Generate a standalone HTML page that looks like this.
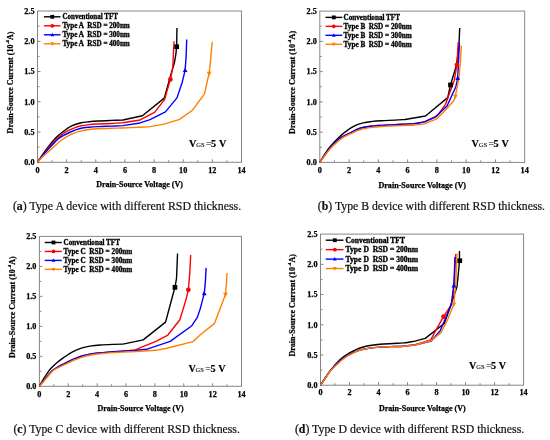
<!DOCTYPE html>
<html><head><meta charset="utf-8"><style>
html,body{margin:0;padding:0;background:#fff;}
svg{display:block;}
text{font-family:'Liberation Serif','Times New Roman',serif;}
.tk{font-size:8.2px;font-weight:bold;fill:#000;stroke:#000;stroke-width:0.25px;}
.lg{font-size:7.2px;font-weight:bold;fill:#000;stroke:#000;stroke-width:0.3px;}
.ax{font-size:8.1px;font-weight:bold;fill:#000;stroke:#000;stroke-width:0.25px;}
.vg{font-size:10.2px;font-weight:bold;fill:#000;stroke:#000;stroke-width:0.2px;}
.cp{font-size:11.5px;fill:#111;stroke:#111;stroke-width:0.2px;}
</style></head><body>
<svg width="550" height="440" viewBox="0 0 550 440">
<rect width="550" height="440" fill="#fff"/>
<rect x="37.5" y="11" width="204" height="151.3" fill="none" stroke="#858585" stroke-width="1"/>
<path d="M52.07 162.3v-2M66.64 162.3v-3M81.21 162.3v-2M95.79 162.3v-3M110.36 162.3v-2M124.93 162.3v-3M139.5 162.3v-2M154.07 162.3v-3M168.64 162.3v-2M183.21 162.3v-3M197.79 162.3v-2M212.36 162.3v-3M226.93 162.3v-2M37.5 147.17h2M37.5 132.04h3M37.5 116.91h2M37.5 101.78h3M37.5 86.65h2M37.5 71.52h3M37.5 56.39h2M37.5 41.26h3M37.5 26.13h2" stroke="#858585" stroke-width="1" fill="none"/>
<text x="37.5" y="172.5" text-anchor="middle" class="tk">0</text>
<text x="66.64" y="172.5" text-anchor="middle" class="tk">2</text>
<text x="95.79" y="172.5" text-anchor="middle" class="tk">4</text>
<text x="124.93" y="172.5" text-anchor="middle" class="tk">6</text>
<text x="154.07" y="172.5" text-anchor="middle" class="tk">8</text>
<text x="183.21" y="172.5" text-anchor="middle" class="tk">10</text>
<text x="212.36" y="172.5" text-anchor="middle" class="tk">12</text>
<text x="241.5" y="172.5" text-anchor="middle" class="tk">14</text>
<text x="34.5" y="165.1" text-anchor="end" class="tk">0.0</text>
<text x="34.5" y="134.84" text-anchor="end" class="tk">0.5</text>
<text x="34.5" y="104.58" text-anchor="end" class="tk">1.0</text>
<text x="34.5" y="74.32" text-anchor="end" class="tk">1.5</text>
<text x="34.5" y="44.06" text-anchor="end" class="tk">2.0</text>
<text x="34.5" y="13.8" text-anchor="end" class="tk">2.5</text>
<path d="M37.5 162.3C38.37 160.97 41 156.83 42.75 154.31C44.49 151.79 45.85 149.87 47.99 147.17C50.13 144.47 53.14 140.61 55.57 138.09C58 135.57 59.96 134.04 62.56 132.04C65.16 130.04 68.22 127.62 71.16 126.11C74.1 124.6 77.18 123.7 80.19 122.96C83.21 122.23 86.19 122.01 89.23 121.69C92.26 121.37 94.62 121.24 98.41 121.03C102.2 120.81 107.88 120.59 111.96 120.42C116.04 120.25 121.07 120.07 122.89 120L142.41 115.7L164.27 98.15L169.52 79.39L174.47 62.44L175.93 53.97L176.66 45.5L176.95 27.95" stroke="#000000" stroke-width="1.4" fill="none" stroke-linejoin="round"/>
<path d="M37.5 162.3C38.47 160.97 41.39 156.83 43.33 154.31C45.27 151.79 46.8 149.87 49.16 147.17C51.51 144.47 54.55 140.71 57.46 138.09C60.38 135.47 63.9 133.1 66.64 131.43C69.39 129.77 71.67 129.01 73.93 128.11C76.19 127.2 77.64 126.57 80.19 125.99C82.74 125.4 86.19 124.93 89.23 124.6C92.26 124.26 94.62 124.18 98.41 123.99C102.2 123.8 107.88 123.65 111.96 123.45C116.04 123.24 121.07 122.89 122.89 122.78L140.08 119.94L154.51 112.37L164.56 99.66L170.39 79.39L172.72 67.89L174.03 41.26" stroke="#ff0000" stroke-width="1.4" fill="none" stroke-linejoin="round"/>
<path d="M37.5 162.3C38.54 160.97 41.65 156.83 43.77 154.31C45.88 151.79 47.6 149.87 50.18 147.17C52.75 144.47 55.71 140.66 59.21 138.09C62.71 135.52 67.66 133.33 71.16 131.74C74.66 130.14 77.18 129.29 80.19 128.53C83.21 127.77 86.19 127.52 89.23 127.2C92.26 126.88 94.62 126.77 98.41 126.59C102.2 126.41 107.88 126.27 111.96 126.11C116.04 125.95 121.07 125.71 122.89 125.62L140.08 122.96L149.99 119.63L165.44 111.83L176.95 97.85L182.19 82.41L185.11 70.31L186.13 56.39L186.71 39.44" stroke="#0000ff" stroke-width="1.4" fill="none" stroke-linejoin="round"/>
<path d="M37.5 162.3C38.35 161.39 40.88 158.54 42.6 156.85C44.32 155.17 46.27 153.6 47.85 152.19C49.42 150.79 50.83 149.55 52.07 148.44C53.31 147.33 53.63 146.98 55.28 145.54C56.93 144.09 59.33 141.63 61.98 139.79C64.63 137.94 68.12 135.9 71.16 134.46C74.2 133.02 77.18 131.97 80.19 131.13C83.21 130.3 86.19 129.84 89.23 129.44C92.26 129.03 94.62 128.91 98.41 128.71C102.2 128.51 107.88 128.35 111.96 128.23C116.04 128.11 118.2 128.16 122.89 127.99C127.58 127.81 137.22 127.33 140.08 127.2L149.99 126.59L164.27 124.17L179.57 119.33L192.69 109.95L204.49 93.91L208.28 76.97L209.15 73.64L210.61 60.02L212.21 41.87" stroke="#ff8000" stroke-width="1.4" fill="none" stroke-linejoin="round"/>
<rect x="174.31" y="44.36" width="4.7" height="4.7" fill="#000000"/>
<circle cx="170.39" cy="79.39" r="2.35" fill="#ff0000"/>
<path d="M185.11 67.63L187.46 72.1L182.76 72.1Z" fill="#0000ff"/>
<path d="M209.15 76.32L211.5 71.85L206.8 71.85Z" fill="#ff8000"/>
<path d="M43.9 16.8H60.5" stroke="#000000" stroke-width="1.4"/>
<rect x="50.4" y="14.9" width="3.8" height="3.8" fill="#000000"/>
<text x="62.4" y="19.4" class="lg" textLength="55.6" lengthAdjust="spacingAndGlyphs">Conventional TFT</text>
<path d="M43.9 25.8H60.5" stroke="#ff0000" stroke-width="1.4"/>
<circle cx="52.3" cy="25.8" r="1.9" fill="#ff0000"/>
<text x="62.4" y="28.4" class="lg" textLength="67.4" lengthAdjust="spacingAndGlyphs">Type A  RSD = 200nm</text>
<path d="M43.9 34.8H60.5" stroke="#0000ff" stroke-width="1.4"/>
<path d="M52.3 32.63L54.2 36.24L50.4 36.24Z" fill="#0000ff"/>
<text x="62.4" y="37.4" class="lg" textLength="67.4" lengthAdjust="spacingAndGlyphs">Type A  RSD = 300nm</text>
<path d="M43.9 43.8H60.5" stroke="#ff8000" stroke-width="1.4"/>
<path d="M52.3 45.97L54.2 42.36L50.4 42.36Z" fill="#ff8000"/>
<text x="62.4" y="46.4" class="lg" textLength="67.4" lengthAdjust="spacingAndGlyphs">Type A  RSD = 400nm</text>
<text transform="translate(13.4 82.5) rotate(-90)" x="0" y="0" text-anchor="middle" class="ax" textLength="101.8" lengthAdjust="spacingAndGlyphs">Drain-Source Current (10<tspan dy="-4.3" font-size="4.6" dx="0.5">-4</tspan><tspan dy="4.3" dx="0.2">A)</tspan></text>
<text x="96.2" y="187" class="ax" textLength="86.8" lengthAdjust="spacingAndGlyphs">Drain-Source Voltage (V)</text>
<text y="147.4" class="vg"><tspan x="189.1">V</tspan><tspan x="196.3" font-size="6.5" font-weight="normal" stroke-width="0.12">GS</tspan><tspan x="206" font-size="9.6" font-weight="normal" stroke-width="0.15" dy="-0.1">=</tspan><tspan x="211.1" dy="0.1">5</tspan><tspan x="218.9">V</tspan></text>
<text x="12.9" y="209.8" class="cp" textLength="228.3" lengthAdjust="spacingAndGlyphs">(<tspan font-weight="bold">a</tspan>) Type A device with different RSD thickness.</text>
<rect x="319.8" y="11.1" width="204.9" height="151.3" fill="none" stroke="#858585" stroke-width="1"/>
<path d="M334.44 162.4v-2M349.07 162.4v-3M363.71 162.4v-2M378.34 162.4v-3M392.98 162.4v-2M407.61 162.4v-3M422.25 162.4v-2M436.89 162.4v-3M451.52 162.4v-2M466.16 162.4v-3M480.79 162.4v-2M495.43 162.4v-3M510.06 162.4v-2M319.8 147.27h2M319.8 132.14h3M319.8 117.01h2M319.8 101.88h3M319.8 86.75h2M319.8 71.62h3M319.8 56.49h2M319.8 41.36h3M319.8 26.23h2" stroke="#858585" stroke-width="1" fill="none"/>
<text x="319.8" y="172.6" text-anchor="middle" class="tk">0</text>
<text x="349.07" y="172.6" text-anchor="middle" class="tk">2</text>
<text x="378.34" y="172.6" text-anchor="middle" class="tk">4</text>
<text x="407.61" y="172.6" text-anchor="middle" class="tk">6</text>
<text x="436.89" y="172.6" text-anchor="middle" class="tk">8</text>
<text x="466.16" y="172.6" text-anchor="middle" class="tk">10</text>
<text x="495.43" y="172.6" text-anchor="middle" class="tk">12</text>
<text x="524.7" y="172.6" text-anchor="middle" class="tk">14</text>
<text x="316.8" y="165.2" text-anchor="end" class="tk">0.0</text>
<text x="316.8" y="134.94" text-anchor="end" class="tk">0.5</text>
<text x="316.8" y="104.68" text-anchor="end" class="tk">1.0</text>
<text x="316.8" y="74.42" text-anchor="end" class="tk">1.5</text>
<text x="316.8" y="44.16" text-anchor="end" class="tk">2.0</text>
<text x="316.8" y="13.9" text-anchor="end" class="tk">2.5</text>
<path d="M319.8 162.4C320.6 161.07 323 156.93 324.63 154.41C326.26 151.89 327.34 150 329.61 147.27C331.87 144.54 335.68 140.53 338.24 138.01C340.8 135.49 342.34 134.13 344.97 132.14C347.61 130.15 351.02 127.62 354.05 126.09C357.07 124.55 360.07 123.72 363.12 122.94C366.17 122.16 369.29 121.8 372.34 121.43C375.39 121.05 377.64 120.91 381.42 120.7C385.2 120.49 391.1 120.36 395.03 120.16C398.95 119.96 403.32 119.6 404.98 119.49L425.47 115.98L447.72 97.64L450.5 84.93L456.5 64.96L458.84 47.41L459.72 28.05" stroke="#000000" stroke-width="1.4" fill="none" stroke-linejoin="round"/>
<path d="M319.8 162.4C320.7 161.07 323.41 156.93 325.22 154.41C327.02 151.89 328.12 149.97 330.63 147.27C333.14 144.57 336.97 140.61 340.29 138.19C343.61 135.77 347.27 134.41 350.54 132.75C353.8 131.08 356.27 129.32 359.9 128.21C363.54 127.1 368.76 126.56 372.34 126.09C375.93 125.61 378.49 125.56 381.42 125.36C384.34 125.16 387.64 124.99 389.91 124.88C392.17 124.77 391.15 124.9 395.03 124.7C398.91 124.49 409.03 123.99 413.18 123.67C417.32 123.34 417.93 123.08 419.91 122.76C421.88 122.44 424.18 121.9 425.03 121.73L435.86 116.4L438.64 113.98L445.52 104.3L454.16 80.7L456.94 64.96L458.25 41.97" stroke="#ff0000" stroke-width="1.4" fill="none" stroke-linejoin="round"/>
<path d="M319.8 162.4C320.7 161.07 323.41 156.93 325.22 154.41C327.02 151.89 328.12 149.97 330.63 147.27C333.14 144.57 336.97 140.61 340.29 138.19C343.61 135.77 347.27 134.41 350.54 132.75C353.8 131.08 356.27 129.32 359.9 128.21C363.54 127.1 368.76 126.56 372.34 126.09C375.93 125.61 378.49 125.56 381.42 125.36C384.34 125.16 387.64 124.99 389.91 124.88C392.17 124.77 391.15 124.9 395.03 124.7C398.91 124.49 409.03 123.99 413.18 123.67C417.32 123.34 417.93 123.08 419.91 122.76C421.88 122.44 424.18 121.9 425.03 121.73L435.86 116.83L440.4 112.29L444.06 108.66L446.98 106.12L455.77 87.05L457.67 78.28L459.42 43.18" stroke="#0000ff" stroke-width="1.4" fill="none" stroke-linejoin="round"/>
<path d="M319.8 162.4C320.78 161.09 323.68 157.05 325.65 154.53C327.63 152.01 328.92 149.99 331.65 147.27C334.39 144.55 338.61 140.56 342.05 138.19C345.49 135.82 349.32 134.46 352.29 133.05C355.27 131.64 356.56 130.66 359.9 129.72C363.24 128.78 368.76 127.94 372.34 127.42C375.93 126.89 378.49 126.79 381.42 126.57C384.34 126.35 387.64 126.2 389.91 126.09C392.17 125.98 391.15 126.06 395.03 125.91C398.91 125.76 409.03 125.4 413.18 125.18C417.32 124.96 417.93 124.83 419.91 124.58C421.88 124.32 424.18 123.82 425.03 123.67L436.74 118.83L444.94 110.53L453.42 101.27L455.33 96.43L458.99 77.67L460.6 59.52L461.33 45.6" stroke="#ff8000" stroke-width="1.4" fill="none" stroke-linejoin="round"/>
<rect x="448.15" y="82.58" width="4.7" height="4.7" fill="#000000"/>
<circle cx="456.94" cy="64.96" r="2.35" fill="#ff0000"/>
<path d="M457.67 75.6L460.02 80.06L455.32 80.06Z" fill="#0000ff"/>
<path d="M455.33 99.11L457.68 94.65L452.98 94.65Z" fill="#ff8000"/>
<path d="M325.5 17.4H342.3" stroke="#000000" stroke-width="1.4"/>
<rect x="331.9" y="15.5" width="3.8" height="3.8" fill="#000000"/>
<text x="343.6" y="20" class="lg" textLength="56.4" lengthAdjust="spacingAndGlyphs">Conventional TFT</text>
<path d="M325.5 26.35H342.3" stroke="#ff0000" stroke-width="1.4"/>
<circle cx="333.8" cy="26.35" r="1.9" fill="#ff0000"/>
<text x="343.6" y="28.95" class="lg" textLength="68.2" lengthAdjust="spacingAndGlyphs">Type B  RSD = 200nm</text>
<path d="M325.5 35.3H342.3" stroke="#0000ff" stroke-width="1.4"/>
<path d="M333.8 33.13L335.7 36.74L331.9 36.74Z" fill="#0000ff"/>
<text x="343.6" y="37.9" class="lg" textLength="68.2" lengthAdjust="spacingAndGlyphs">Type B  RSD = 300nm</text>
<path d="M325.5 44.25H342.3" stroke="#ff8000" stroke-width="1.4"/>
<path d="M333.8 46.42L335.7 42.81L331.9 42.81Z" fill="#ff8000"/>
<text x="343.6" y="46.85" class="lg" textLength="68.2" lengthAdjust="spacingAndGlyphs">Type B  RSD = 400nm</text>
<text transform="translate(295 82.4) rotate(-90)" x="0" y="0" text-anchor="middle" class="ax" textLength="103" lengthAdjust="spacingAndGlyphs">Drain-Source Current (10<tspan dy="-4.3" font-size="4.6" dx="0.5">-4</tspan><tspan dy="4.3" dx="0.2">A)</tspan></text>
<text x="378.4" y="187.7" class="ax" textLength="87.6" lengthAdjust="spacingAndGlyphs">Drain-Source Voltage (V)</text>
<text y="146.9" class="vg"><tspan x="471.6">V</tspan><tspan x="478.8" font-size="6.5" font-weight="normal" stroke-width="0.12">GS</tspan><tspan x="488.5" font-size="9.6" font-weight="normal" stroke-width="0.15" dy="-0.1">=</tspan><tspan x="493.6" dy="0.1">5</tspan><tspan x="501.4">V</tspan></text>
<text x="317.8" y="209.9" class="cp" textLength="227.2" lengthAdjust="spacingAndGlyphs">(<tspan font-weight="bold">b</tspan>) Type B device with different RSD thickness.</text>
<rect x="39.4" y="236.4" width="202.1" height="149.9" fill="none" stroke="#858585" stroke-width="1"/>
<path d="M53.84 386.3v-2M68.27 386.3v-3M82.71 386.3v-2M97.14 386.3v-3M111.58 386.3v-2M126.01 386.3v-3M140.45 386.3v-2M154.89 386.3v-3M169.32 386.3v-2M183.76 386.3v-3M198.19 386.3v-2M212.63 386.3v-3M227.06 386.3v-2M39.4 371.31h2M39.4 356.32h3M39.4 341.33h2M39.4 326.34h3M39.4 311.35h2M39.4 296.36h3M39.4 281.37h2M39.4 266.38h3M39.4 251.39h2" stroke="#858585" stroke-width="1" fill="none"/>
<text x="39.4" y="396.5" text-anchor="middle" class="tk">0</text>
<text x="68.27" y="396.5" text-anchor="middle" class="tk">2</text>
<text x="97.14" y="396.5" text-anchor="middle" class="tk">4</text>
<text x="126.01" y="396.5" text-anchor="middle" class="tk">6</text>
<text x="154.89" y="396.5" text-anchor="middle" class="tk">8</text>
<text x="183.76" y="396.5" text-anchor="middle" class="tk">10</text>
<text x="212.63" y="396.5" text-anchor="middle" class="tk">12</text>
<text x="241.5" y="396.5" text-anchor="middle" class="tk">14</text>
<text x="36.4" y="389.1" text-anchor="end" class="tk">0.0</text>
<text x="36.4" y="359.12" text-anchor="end" class="tk">0.5</text>
<text x="36.4" y="329.14" text-anchor="end" class="tk">1.0</text>
<text x="36.4" y="299.16" text-anchor="end" class="tk">1.5</text>
<text x="36.4" y="269.18" text-anchor="end" class="tk">2.0</text>
<text x="36.4" y="239.2" text-anchor="end" class="tk">2.5</text>
<path d="M39.4 386.3C40.12 385.03 42.21 381.18 43.73 378.69C45.25 376.19 46.93 373.39 48.49 371.31C50.06 369.23 51.57 367.76 53.11 366.21C54.65 364.66 56.17 363.32 57.73 362.02C59.3 360.72 60.74 359.67 62.5 358.42C64.25 357.17 66.52 355.65 68.27 354.52C70.03 353.39 70.73 352.74 73.04 351.64C75.34 350.54 79.1 348.89 82.13 347.93C85.16 346.96 88.19 346.33 91.22 345.83C94.26 345.33 96.52 345.18 100.32 344.93C104.12 344.68 110.26 344.47 114.03 344.33C117.81 344.19 121.49 344.13 122.98 344.09L143.19 339.83L165.57 322.14L174.23 289.76L174.95 287.37L176.54 278.37L177.55 253.49" stroke="#000000" stroke-width="1.4" fill="none" stroke-linejoin="round"/>
<path d="M39.4 386.3C40.41 385.02 43.42 381.12 45.46 378.63C47.51 376.13 49.67 373.18 51.67 371.31C53.67 369.44 55.57 368.56 57.44 367.41C59.32 366.26 61.13 365.36 62.93 364.41C64.73 363.47 66.59 362.57 68.27 361.72C69.96 360.87 70.73 360.27 73.04 359.32C75.34 358.37 79.1 356.92 82.13 356.02C85.16 355.12 88.19 354.45 91.22 353.92C94.26 353.39 96.52 353.22 100.32 352.84C104.12 352.46 110.26 351.94 114.03 351.64C117.81 351.34 119.49 351.31 122.98 351.04C126.47 350.77 132.97 350.19 134.96 350.02L140.45 347.63L155.9 341.33L167.88 335.03L179.86 319.74L186.07 299.36L188.38 289.76L189.82 272.38L190.69 254.99" stroke="#ff0000" stroke-width="1.4" fill="none" stroke-linejoin="round"/>
<path d="M39.4 386.3C40.41 385.02 43.42 381.12 45.46 378.63C47.51 376.13 49.67 373.18 51.67 371.31C53.67 369.44 55.57 368.56 57.44 367.41C59.32 366.26 61.13 365.36 62.93 364.41C64.73 363.47 66.59 362.57 68.27 361.72C69.96 360.87 70.73 360.27 73.04 359.32C75.34 358.37 79.1 356.92 82.13 356.02C85.16 355.12 88.19 354.45 91.22 353.92C94.26 353.39 96.52 353.22 100.32 352.84C104.12 352.46 110.26 351.92 114.03 351.64C117.81 351.36 119.49 351.36 122.98 351.16C126.47 350.96 132.97 350.56 134.96 350.44L146.37 349.3L170.19 341.33L191.84 325.74L197.47 317.11L200.36 308.35L204.26 293.36L205.41 281.37L206.13 267.88" stroke="#0000ff" stroke-width="1.4" fill="none" stroke-linejoin="round"/>
<path d="M39.4 386.3C40.48 385.03 43.71 381.18 45.9 378.69C48.09 376.19 50.61 373.09 52.54 371.31C54.46 369.53 55.71 368.98 57.44 368.01C59.18 367.04 61.13 366.34 62.93 365.49C64.73 364.64 66.59 363.75 68.27 362.92C69.96 362.09 70.73 361.49 73.04 360.52C75.34 359.55 79.1 358.03 82.13 357.1C85.16 356.17 88.19 355.5 91.22 354.94C94.26 354.38 96.52 354.13 100.32 353.74C104.12 353.35 110.26 352.87 114.03 352.6C117.81 352.33 118.58 352.35 122.98 352.12C127.39 351.89 137.54 351.37 140.45 351.22L155.9 350.32L166.87 348.29L193 341.63L200.07 335.03L214.51 323.34L225.48 294.56L226.34 284.37L227.06 272.98" stroke="#ff8000" stroke-width="1.4" fill="none" stroke-linejoin="round"/>
<rect x="172.6" y="285.02" width="4.7" height="4.7" fill="#000000"/>
<circle cx="188.38" cy="289.76" r="2.35" fill="#ff0000"/>
<path d="M204.26 290.68L206.61 295.15L201.91 295.15Z" fill="#0000ff"/>
<path d="M225.48 297.24L227.83 292.78L223.13 292.78Z" fill="#ff8000"/>
<path d="M44.7 242.5H61.8" stroke="#000000" stroke-width="1.4"/>
<rect x="51.6" y="240.6" width="3.8" height="3.8" fill="#000000"/>
<text x="63.6" y="245.1" class="lg" textLength="56.4" lengthAdjust="spacingAndGlyphs">Conventional TFT</text>
<path d="M44.7 251.45H61.8" stroke="#ff0000" stroke-width="1.4"/>
<circle cx="53.5" cy="251.45" r="1.9" fill="#ff0000"/>
<text x="63.6" y="254.05" class="lg" textLength="68.8" lengthAdjust="spacingAndGlyphs">Type C  RSD = 200nm</text>
<path d="M44.7 260.4H61.8" stroke="#0000ff" stroke-width="1.4"/>
<path d="M53.5 258.23L55.4 261.84L51.6 261.84Z" fill="#0000ff"/>
<text x="63.6" y="263" class="lg" textLength="68.8" lengthAdjust="spacingAndGlyphs">Type C  RSD = 300nm</text>
<path d="M44.7 269.35H61.8" stroke="#ff8000" stroke-width="1.4"/>
<path d="M53.5 271.52L55.4 267.91L51.6 267.91Z" fill="#ff8000"/>
<text x="63.6" y="271.95" class="lg" textLength="68.8" lengthAdjust="spacingAndGlyphs">Type C  RSD = 400nm</text>
<text transform="translate(14.9 307.05) rotate(-90)" x="0" y="0" text-anchor="middle" class="ax" textLength="101.7" lengthAdjust="spacingAndGlyphs">Drain-Source Current (10<tspan dy="-4.3" font-size="4.6" dx="0.5">-4</tspan><tspan dy="4.3" dx="0.2">A)</tspan></text>
<text x="97.6" y="410.8" class="ax" textLength="86" lengthAdjust="spacingAndGlyphs">Drain-Source Voltage (V)</text>
<text y="371.7" class="vg"><tspan x="188.4">V</tspan><tspan x="195.6" font-size="6.5" font-weight="normal" stroke-width="0.12">GS</tspan><tspan x="205.3" font-size="9.6" font-weight="normal" stroke-width="0.15" dy="-0.1">=</tspan><tspan x="210.4" dy="0.1">5</tspan><tspan x="218.2">V</tspan></text>
<text x="13.4" y="432.8" class="cp" textLength="226.5" lengthAdjust="spacingAndGlyphs">(<tspan font-weight="bold">c</tspan>) Type C device with different RSD thickness.</text>
<rect x="320.5" y="234.1" width="203.1" height="151.1" fill="none" stroke="#858585" stroke-width="1"/>
<path d="M335.01 385.2v-2M349.51 385.2v-3M364.02 385.2v-2M378.53 385.2v-3M393.04 385.2v-2M407.54 385.2v-3M422.05 385.2v-2M436.56 385.2v-3M451.06 385.2v-2M465.57 385.2v-3M480.08 385.2v-2M494.59 385.2v-3M509.09 385.2v-2M320.5 370.09h2M320.5 354.98h3M320.5 339.87h2M320.5 324.76h3M320.5 309.65h2M320.5 294.54h3M320.5 279.43h2M320.5 264.32h3M320.5 249.21h2" stroke="#858585" stroke-width="1" fill="none"/>
<text x="320.5" y="395.4" text-anchor="middle" class="tk">0</text>
<text x="349.51" y="395.4" text-anchor="middle" class="tk">2</text>
<text x="378.53" y="395.4" text-anchor="middle" class="tk">4</text>
<text x="407.54" y="395.4" text-anchor="middle" class="tk">6</text>
<text x="436.56" y="395.4" text-anchor="middle" class="tk">8</text>
<text x="465.57" y="395.4" text-anchor="middle" class="tk">10</text>
<text x="494.59" y="395.4" text-anchor="middle" class="tk">12</text>
<text x="523.6" y="395.4" text-anchor="middle" class="tk">14</text>
<text x="317.5" y="388" text-anchor="end" class="tk">0.0</text>
<text x="317.5" y="357.78" text-anchor="end" class="tk">0.5</text>
<text x="317.5" y="327.56" text-anchor="end" class="tk">1.0</text>
<text x="317.5" y="297.34" text-anchor="end" class="tk">1.5</text>
<text x="317.5" y="267.12" text-anchor="end" class="tk">2.0</text>
<text x="317.5" y="236.9" text-anchor="end" class="tk">2.5</text>
<path d="M320.5 385.2C321.35 383.89 323.88 379.86 325.58 377.34C327.27 374.82 328.31 372.98 330.65 370.09C333 367.2 337.06 362.51 339.65 360C342.24 357.48 344.05 356.42 346.18 354.98C348.31 353.54 350.12 352.51 352.42 351.35C354.71 350.2 357.3 348.96 359.96 348.03C362.62 347.1 365.04 346.42 368.37 345.79C371.71 345.17 375.87 344.66 379.98 344.28C384.09 343.9 389.05 343.73 393.04 343.5C397.03 343.26 400.27 343.29 403.92 342.89C407.57 342.49 413.1 341.38 414.94 341.08L425.24 338.36L444.25 323.55L449.03 310.25L457.01 286.68L458.32 273.99L459.48 260.69L459.48 251.02" stroke="#000000" stroke-width="1.4" fill="none" stroke-linejoin="round"/>
<path d="M320.5 385.2C321.37 383.91 323.98 379.98 325.72 377.46C327.46 374.95 328.43 372.98 330.95 370.09C333.46 367.2 338.08 362.53 340.81 360.12C343.54 357.7 345.16 356.89 347.34 355.58C349.51 354.27 351.76 353.19 353.87 352.26C355.97 351.33 357.54 350.68 359.96 350.02C362.38 349.37 365.04 348.82 368.37 348.33C371.71 347.85 376.38 347.4 379.98 347.12C383.58 346.84 386 346.79 389.99 346.64C393.98 346.49 399.76 346.56 403.92 346.22C408.07 345.87 413.1 344.86 414.94 344.58L430.75 339.87L435.54 330.8L443.52 316.6L451.79 304.21L454.69 276.41L455.71 254.05" stroke="#ff0000" stroke-width="1.4" fill="none" stroke-linejoin="round"/>
<path d="M320.5 385.2C321.37 383.91 323.98 379.98 325.72 377.46C327.46 374.95 328.43 372.98 330.95 370.09C333.46 367.2 338.08 362.53 340.81 360.12C343.54 357.7 345.16 356.89 347.34 355.58C349.51 354.27 351.76 353.19 353.87 352.26C355.97 351.33 357.54 350.68 359.96 350.02C362.38 349.37 365.04 348.82 368.37 348.33C371.71 347.85 376.38 347.4 379.98 347.12C383.58 346.84 386 346.79 389.99 346.64C393.98 346.49 399.76 346.49 403.92 346.22C408.07 345.94 413.1 345.21 414.94 345.01L431.33 341.08L440.18 330.8L451.21 304.81L453.24 290.01L453.82 285.72L454.98 257.07" stroke="#0000ff" stroke-width="1.4" fill="none" stroke-linejoin="round"/>
<path d="M320.5 385.2C321.39 383.92 324.08 380.04 325.87 377.52C327.66 375.01 328.55 373.01 331.24 370.09C333.92 367.17 339.09 362.43 341.97 360C344.85 357.56 346.52 356.7 348.5 355.46C350.48 354.22 351.96 353.47 353.87 352.56C355.78 351.66 357.54 350.73 359.96 350.02C362.38 349.32 365.04 348.82 368.37 348.33C371.71 347.85 376.38 347.4 379.98 347.12C383.58 346.84 386 346.79 389.99 346.64C393.98 346.49 399.76 346.49 403.92 346.22C408.07 345.94 413.1 345.21 414.94 345.01L431.33 340.47L440.91 332.62L447.73 319.32L453.82 304.21L455.13 290.01L455.71 284.87L457.01 253.44" stroke="#ff8000" stroke-width="1.4" fill="none" stroke-linejoin="round"/>
<rect x="457.42" y="258.34" width="4.7" height="4.7" fill="#000000"/>
<circle cx="443.52" cy="316.6" r="2.35" fill="#ff0000"/>
<path d="M453.82 283.04L456.17 287.5L451.47 287.5Z" fill="#0000ff"/>
<path d="M453.82 306.89L456.17 302.42L451.47 302.42Z" fill="#ff8000"/>
<path d="M325.7 240.2H343.5" stroke="#000000" stroke-width="1.4"/>
<rect x="332.9" y="238.3" width="3.8" height="3.8" fill="#000000"/>
<text x="345.5" y="242.8" class="lg" textLength="59.5" lengthAdjust="spacingAndGlyphs">Conventional TFT</text>
<path d="M325.7 249.65H343.5" stroke="#ff0000" stroke-width="1.4"/>
<circle cx="334.8" cy="249.65" r="1.9" fill="#ff0000"/>
<text x="345.5" y="252.25" class="lg" textLength="72.7" lengthAdjust="spacingAndGlyphs">Type D  RSD = 200nm</text>
<path d="M325.7 259.1H343.5" stroke="#0000ff" stroke-width="1.4"/>
<path d="M334.8 256.93L336.7 260.54L332.9 260.54Z" fill="#0000ff"/>
<text x="345.5" y="261.7" class="lg" textLength="72.7" lengthAdjust="spacingAndGlyphs">Type D  RSD = 300nm</text>
<path d="M325.7 268.55H343.5" stroke="#ff8000" stroke-width="1.4"/>
<path d="M334.8 270.72L336.7 267.11L332.9 267.11Z" fill="#ff8000"/>
<text x="345.5" y="271.15" class="lg" textLength="72.7" lengthAdjust="spacingAndGlyphs">Type D  RSD = 400nm</text>
<text transform="translate(295.4 305.3) rotate(-90)" x="0" y="0" text-anchor="middle" class="ax" textLength="102.6" lengthAdjust="spacingAndGlyphs">Drain-Source Current (10<tspan dy="-4.3" font-size="4.6" dx="0.5">-4</tspan><tspan dy="4.3" dx="0.2">A)</tspan></text>
<text x="379" y="410.8" class="ax" textLength="86.6" lengthAdjust="spacingAndGlyphs">Drain-Source Voltage (V)</text>
<text y="369.3" class="vg"><tspan x="469">V</tspan><tspan x="476.2" font-size="6.5" font-weight="normal" stroke-width="0.12">GS</tspan><tspan x="485.9" font-size="9.6" font-weight="normal" stroke-width="0.15" dy="-0.1">=</tspan><tspan x="491" dy="0.1">5</tspan><tspan x="498.8">V</tspan></text>
<text x="294.9" y="432.7" class="cp" textLength="229.3" lengthAdjust="spacingAndGlyphs">(<tspan font-weight="bold">d</tspan>) Type D device with different RSD thickness.</text>
</svg>
</body></html>
